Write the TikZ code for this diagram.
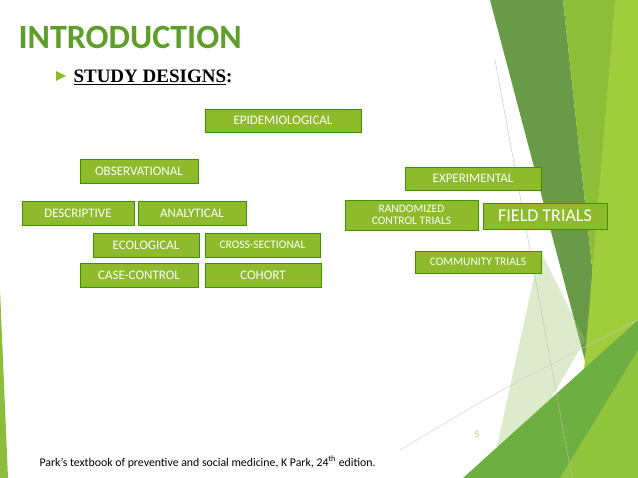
\documentclass[tikz,border=0pt]{standalone}
\usepackage{fontspec}
\setmainfont{Carlito}
\newfontfamily\serifb{Liberation Serif}
\begin{document}
\begin{tikzpicture}[x=1pt,y=-1pt,
 bx/.style={draw=green!40!black!70!lime, line width=0.8pt, fill=boxg, text=white, inner sep=1pt, align=center, font=\fontsize{13}{14}\selectfont}]
\definecolor{boxg}{HTML}{8DBB2C}
\useasboundingbox (0,0) rectangle (638,478);
\fill[white] (0,0) rectangle (638,478);
% decorations
\fill[color={rgb,255:red,104;green,154;blue,72}] (490,0)--(563,0)--(600,340)--(588,372)--cycle;
\fill[color={rgb,255:red,141;green,190;blue,58}] (563,0)--(638,0)--(638,478)--(600,478)--(600,340)--cycle;
\fill[color={rgb,255:red,160;green,205;blue,60}] (615,0)--(638,0)--(638,478)--(575,478)--cycle;
\fill[color={rgb,255:red,160;green,200;blue,110},opacity=0.35] (540,250)--(585,340)--(505,478)--(490,478)--cycle;
\fill[color={rgb,255:red,110;green,175;blue,65}] (463,478)--(638,320)--(638,478)--cycle;
\fill[color={rgb,255:red,160;green,205;blue,60},opacity=0.7] (560,478)--(638,350)--(638,478)--cycle;
\draw[gray!50,line width=0.4pt] (495,60)--(572,478);
\draw[gray!40,line width=0.4pt] (400,450) .. controls (500,390) .. (638,320);
\fill[color={rgb,255:red,141;green,190;blue,58}] (0,290)--(8,478)--(0,478)--cycle;
% title
\node[anchor=west,font=\bfseries\fontsize{34}{36}\selectfont, text={rgb,255:red,96;green,158;blue,42}] (t) at (15,37) {INTRODUCTION};
\fill[boxg] (56,71)--(66,76)--(56,81)--cycle;
\node[anchor=west,font=\serifb\bfseries\fontsize{19}{20}\selectfont] (s) at (70,77) {\underline{STUDY DESIGNS}:};
% boxes
\node[bx,minimum width=156,minimum height=23] (epi) at (283,120.5) {EPIDEMIOLOGICAL};
\node[bx,minimum width=118,minimum height=24] (obs) at (139,171) {OBSERVATIONAL};
\node[bx,minimum width=136,minimum height=23] (exp) at (473,178.5) {EXPERIMENTAL};
\node[bx,minimum width=112,minimum height=24] (des) at (78,213) {DESCRIPTIVE};
\node[bx,minimum width=108,minimum height=24] (ana) at (192,213) {ANALYTICAL};
\node[bx,minimum width=133,minimum height=30,font=\fontsize{11.5}{12}\selectfont] (rct) at (411.5,215) {RANDOMIZED\\CONTROL TRIALS};
\node[bx,minimum width=124,minimum height=26,font=\fontsize{18}{19}\selectfont] (ft) at (545,216) {FIELD TRIALS};
\node[bx,minimum width=106,minimum height=24] (eco) at (146,245) {ECOLOGICAL};
\node[bx,minimum width=115,minimum height=24,font=\fontsize{11.5}{12}\selectfont] (cs) at (262.5,245) {CROSS-SECTIONAL};
\node[bx,minimum width=118,minimum height=24] (cc) at (139,275) {CASE-CONTROL};
\node[bx,minimum width=116,minimum height=24] (coh) at (263,275) {COHORT};
\node[bx,minimum width=126,minimum height=22,font=\fontsize{11.5}{12}\selectfont] (ct) at (478,262) {COMMUNITY TRIALS};
\node[font=\fontsize{10}{11}\selectfont, text=boxg!70!white] (pg) at (477,434) {5};
\node[anchor=west,font=\fontsize{11.8}{13}\selectfont] (ref) at (36,462) {Park's textbook of preventive and social medicine, K Park, 24\textsuperscript{th} edition.};
\end{tikzpicture}
\end{document}
